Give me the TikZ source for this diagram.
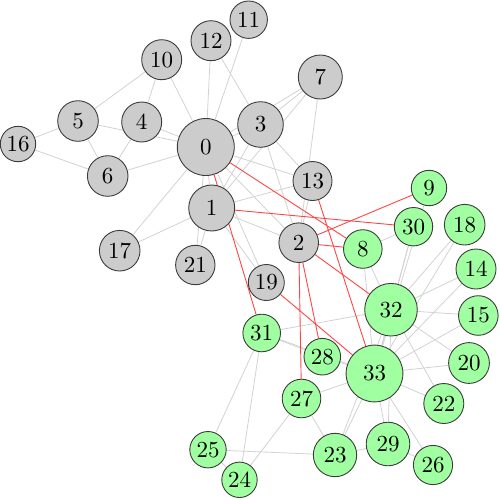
\documentclass[tikz,border=0pt]{standalone}
\usepackage{fontspec}
\newfontfamily\lmten{lmroman10-regular}[Extension=.otf]
\usetikzlibrary{backgrounds}
\definecolor{grayfill}{RGB}{204,204,204}
\definecolor{greenfill}{RGB}{160,255,160}
\definecolor{bordercol}{RGB}{60,60,60}
\definecolor{edgecol}{RGB}{210,210,210}
\definecolor{cutcol}{RGB}{255,70,70}
\tikzset{
  vtx/.style={circle, draw=bordercol, line width=0.9pt, inner sep=0pt,
    minimum size=2*#1*1pt, font=\lmten\fontsize{23}{26}\selectfont},
  ga/.style={vtx=#1, fill=grayfill},
  gb/.style={vtx=#1, fill=greenfill},
  edge/.style={draw=edgecol, line width=0.8pt},
  cut/.style={draw=cutcol, line width=0.9pt}
}
\begin{document}
\begin{tikzpicture}[x=1pt,y=-1pt]
\useasboundingbox (0,0) rectangle (500,498);
\node[ga=28.5] (n0) at (205.8,147) {0};
\node[ga=23] (n1) at (211.7,208) {1};
\node[ga=19.8] (n2) at (298.7,242.7) {2};
\node[ga=22.8] (n3) at (260.5,124.5) {3};
\node[ga=20] (n4) at (141.7,122) {4};
\node[ga=20.3] (n5) at (78,121) {5};
\node[ga=20.3] (n6) at (107.7,176) {6};
\node[ga=22] (n7) at (320.3,77) {7};
\node[gb=19.3] (n8) at (362.8,249) {8};
\node[gb=17.7] (n9) at (429,188) {9};
\node[ga=20] (n10) at (161.7,59.7) {10};
\node[ga=18.7] (n11) at (248.7,19.7) {11};
\node[ga=20] (n12) at (211,40.7) {12};
\node[ga=19.5] (n13) at (312.5,181) {13};
\node[gb=20] (n14) at (476,269) {14};
\node[gb=19.8] (n15) at (478.3,315.5) {15};
\node[ga=17.7] (n16) at (18,144) {16};
\node[ga=20.3] (n17) at (119.7,250.7) {17};
\node[gb=20.3] (n18) at (464.7,224.7) {18};
\node[ga=18] (n19) at (266.3,282.5) {19};
\node[gb=20.4] (n20) at (469,363) {20};
\node[ga=19.7] (n21) at (195.3,265) {21};
\node[gb=20] (n22) at (443.8,403.5) {22};
\node[gb=21.7] (n23) at (335,455) {23};
\node[gb=17.7] (n24) at (239.5,479.8) {24};
\node[gb=18.2] (n25) at (208,449.7) {25};
\node[gb=19.6] (n26) at (433,465) {26};
\node[gb=19.3] (n27) at (301.5,398.5) {27};
\node[gb=18.3] (n28) at (322.3,356.7) {28};
\node[gb=21.8] (n29) at (388,444) {29};
\node[gb=19.2] (n30) at (413.5,226.7) {30};
\node[gb=18.8] (n31) at (261.7,333) {31};
\node[gb=26.3] (n32) at (391,309.7) {32};
\node[gb=28.4] (n33) at (374.5,373.5) {33};
\begin{scope}[on background layer]
\foreach \a/\b in {0/1,0/2,0/3,0/4,0/5,0/6,0/7,0/10,0/11,0/12,0/13,0/17,0/19,0/21,
  1/2,1/3,1/7,1/13,1/17,1/19,1/21,
  2/3,2/7,2/13,
  3/7,3/12,3/13,
  4/6,4/10,5/6,5/10,5/16,6/16,
  8/30,8/32,8/33,9/33,14/32,14/33,15/32,15/33,18/32,18/33,20/32,20/33,22/32,22/33,
  23/25,23/27,23/29,23/32,23/33,24/25,24/27,24/31,25/31,26/29,26/33,27/33,28/31,28/33,
  29/32,29/33,30/32,30/33,31/32,31/33,32/33}
  \draw[edge] (n\a) -- (n\b);
\foreach \a/\b in {0/8,0/31,1/30,2/8,2/9,2/27,2/28,2/32,13/33,19/33}
  \draw[cut] (n\a) -- (n\b);
\end{scope}
\end{tikzpicture}
\end{document}
